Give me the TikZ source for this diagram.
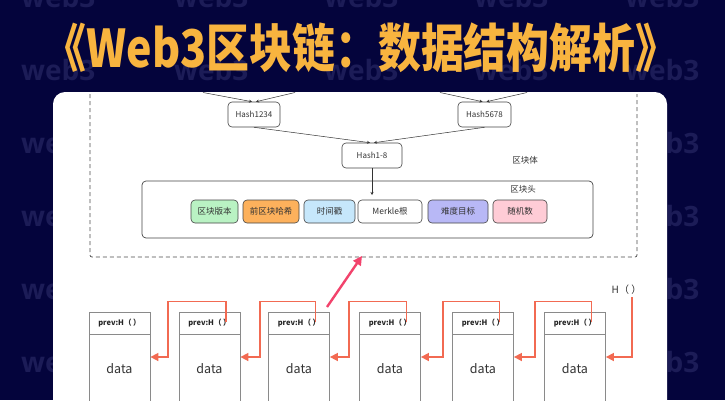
\documentclass[tikz,border=0pt]{standalone}
\usepackage{fontspec}
\setmainfont{Noto Sans CJK SC}
\newfontfamily\titlefont{Noto Sans CJK SC}[FakeStretch=0.825]
\newfontfamily\wmfont{Open Sans}
\usetikzlibrary{arrows.meta}
\definecolor{bg}{HTML}{04043C}
\definecolor{wmc}{HTML}{1C1C57}
\definecolor{titlec}{HTML}{F8B43F}
\definecolor{redarr}{HTML}{F26A52}
\definecolor{pinkarr}{HTML}{F2436C}
\definecolor{fgreen}{HTML}{B9F2C3}
\definecolor{forange}{HTML}{FDB15C}
\definecolor{fblue}{HTML}{C6E7FB}
\definecolor{fpurple}{HTML}{B8B8F6}
\definecolor{fpink}{HTML}{FFCCD6}
\definecolor{boxline}{HTML}{444444}
\definecolor{blockline}{HTML}{8A8A8A}
\tikzset{
  hbox/.style={draw=boxline, line width=0.6pt, rounded corners=4pt, inner sep=0pt,
    minimum height=25pt, font=\fontsize{8}{9}\selectfont, text=black!80},
  fbox/.style={draw=boxline, line width=0.6pt, rounded corners=4pt, inner sep=0pt,
    minimum height=23pt, font=\fontsize{8.5}{10}\selectfont, text=black!80},
  thinarr/.style={draw=black!80, line width=0.5pt, -{Stealth[length=3pt,width=3pt]}},
  headbox/.style={draw=blockline, line width=0.8pt, inner sep=0pt, minimum width=61pt,
    minimum height=22pt, font=\fontsize{7.5}{9}\selectfont\bfseries, text=black!85},
  bodybox/.style={draw=blockline, line width=0.8pt, inner sep=0pt, minimum width=61pt,
    minimum height=67pt, font=\fontsize{12.5}{14}\selectfont, text=black!80},
  redarrow/.style={draw=redarr, line width=1.6pt, line join=miter,
    -{Triangle[length=8pt,width=8pt]}},
  wmtext/.style={font=\wmfont\bfseries\fontsize{28}{30}\selectfont, text=wmc, anchor=west, inner sep=0pt},
  lbl/.style={font=\fontsize{8.5}{10}\selectfont, text=black!80, inner sep=0pt}
}
\begin{document}
\begin{tikzpicture}[x=1pt,y=-1pt]
\useasboundingbox (0,0) rectangle (725,400);
\fill[bg] (0,0) rectangle (725,400);
% watermarks (only those not hidden by the white panel)
\foreach \xx in {21,174,324,474,625}{
  \foreach \yy in {-3,70}{
    \node[wmtext] (wm-\xx-\yy) at (\xx,\yy) {web3};
  }
}
\foreach \xx in {21,625}{
  \foreach \yy in {143,216,289,362}{
    \node[wmtext] (wm-\xx-\yy) at (\xx,\yy) {web3};
  }
}
% title
\node[font=\titlefont\bfseries\fontsize{52}{56}\selectfont, text=titlec, inner sep=0pt] (title) at (361,48) {《Web3区块链：数据结构解析》};
% panel
\fill[white, rounded corners=12pt] (53,92) rectangle (667,430);
% dashed block-body frame
\draw[draw=black!70, line width=0.7pt, dash pattern=on 4pt off 3pt, rounded corners=2pt]
  (90,94) -- (90,257) -- (637,257) -- (637,94);
% merkle tree part
\node[hbox, minimum width=52pt] (h1234) at (254,114.5) {Hash1234};
\node[hbox, minimum width=53pt] (h5678) at (484.5,114.5) {Hash5678};
\node[hbox, minimum width=60pt] (h18) at (372,155.5) {Hash1-8};
\coordinate (t1) at (203,92.5);
\coordinate (t2) at (295,92.5);
\coordinate (t3) at (440,92.5);
\coordinate (t4) at (527,92.5);
\draw[thinarr] (t1) -- ([xshift=-2pt]h1234.north);
\draw[thinarr] (t2) -- ([xshift=2pt]h1234.north);
\draw[thinarr] (t3) -- ([xshift=-2pt]h5678.north);
\draw[thinarr] (t4) -- ([xshift=2pt]h5678.north);
\draw[thinarr] (h1234.south) -- ([xshift=-2pt]h18.north);
\draw[thinarr] (h5678.south) -- ([xshift=2pt]h18.north);
\node[lbl] (lbody) at (525,160) {区块体};
% block header
\draw[draw=boxline, line width=0.7pt, rounded corners=4pt] (142,181) rectangle (593,238);
\node[lbl] (lhead) at (523,189.5) {区块头};
\node[fbox, fill=fgreen, minimum width=47pt] (f1) at (214.5,211.5) {区块版本};
\node[fbox, fill=forange, minimum width=56pt] (f2) at (271,211.5) {前区块哈希};
\node[fbox, fill=fblue, minimum width=51pt] (f3) at (329.5,211.5) {时间戳};
\node[fbox, fill=white, minimum width=64pt] (f4) at (390,211.5) {Merkle根};
\node[fbox, fill=fpurple, minimum width=60pt] (f5) at (458,211.5) {难度目标};
\node[fbox, fill=fpink, minimum width=54pt] (f6) at (520,211.5) {随机数};
\coordinate (mtip) at (372,195);
\draw[thinarr] (h18.south) -- (mtip);
% chain of blocks
\foreach \i/\cx in {1/119.5,2/209.5,3/299,4/390,5/483,6/575}{
  \node[headbox] (p\i) at (\cx,323) {prev:H（ ）};
  \node[bodybox, anchor=north] (d\i) at (p\i.south) {data};
}
\coordinate (toplvl) at (0,301.5);
\coordinate (lowlvl) at (0,357);
\foreach \i/\j/\mx in {2/1/168,3/2/260,4/3/349,5/4/443,6/5/535}{
  \coordinate (s\i) at ([shift={(16.5,-1)}]p\i.center);
  \coordinate (m\i) at (\mx,357);
  \draw[redarrow] (s\i) -- (s\i |- toplvl) -| (m\i) -- (d\j.east |- lowlvl);
}
\node[font=\fontsize{10}{12}\selectfont, text=black!80, inner sep=0pt] (hlab) at (626.5,290) {H（ ）};
\coordinate (s7) at (632,297);
\coordinate (m7) at (632,357);
\draw[redarrow] (s7) -- (m7) -- (d6.east |- lowlvl);
% pink arrow
\coordinate (pk1) at (327,307);
\coordinate (pk2) at (362,256);
\draw[draw=pinkarr, line width=2.4pt, -{Triangle[length=9pt,width=9pt]}] (pk1) -- (pk2);
\end{tikzpicture}
\end{document}
